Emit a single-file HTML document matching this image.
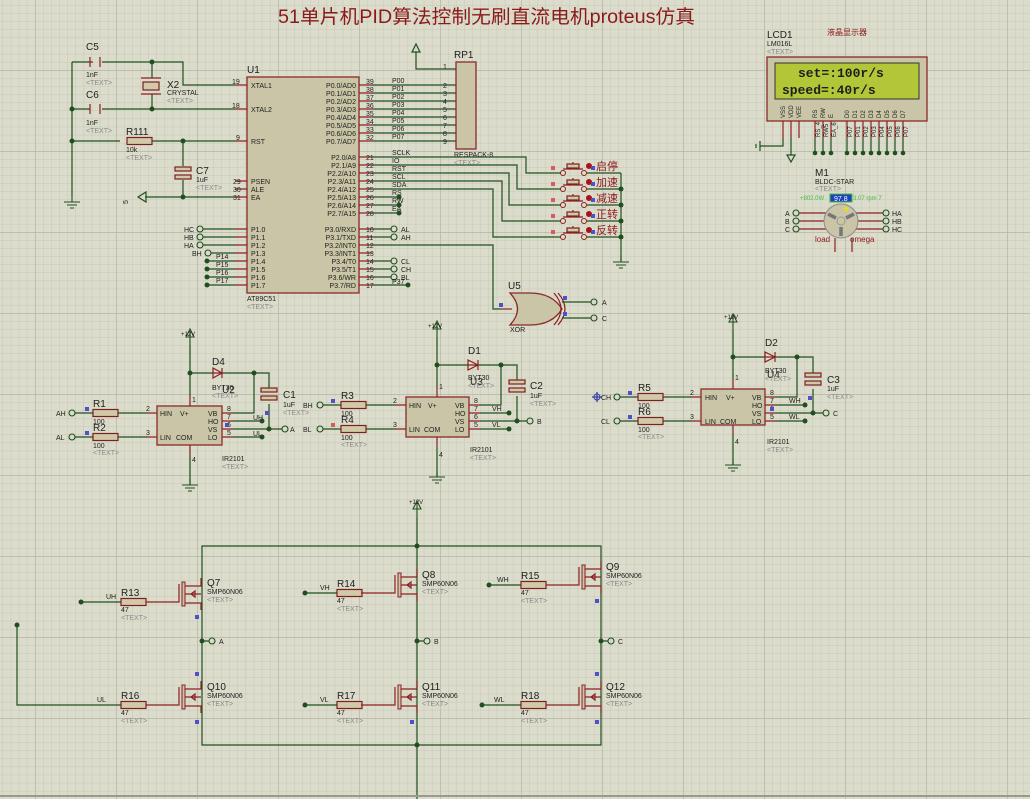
<!DOCTYPE html>
<html><head><meta charset="utf-8"><style>
html,body{margin:0;padding:0;background:#dcdccc;}
svg{display:block}
text{font-family:"Liberation Sans","Noto Sans CJK SC",sans-serif;fill:#1e1e1e}
.w{stroke:#1f4f1f;stroke-width:1.2;fill:none}
.p{stroke:#8b2020;stroke-width:1.2;fill:none}
.b{fill:#c9c5a6;stroke:#8b2a2a;stroke-width:1.3}
.r{fill:#d2c9a8;stroke:#7a2020;stroke-width:1.2}
.t{fill:none;stroke:#1f4f1f;stroke-width:1.1}
.d{fill:#1f4f1f}
.s{font-size:7px}
.g{font-size:7px;fill:#8a8a8a}
.l{font-size:10px}
.m{font-size:7px}
.bl{fill:#5050c8}.rd{fill:#d06060}
</style></head><body>
<svg width="1030" height="799" viewBox="0 0 1030 799" xmlns="http://www.w3.org/2000/svg">
<defs>
<pattern id="mi" x="2.6" y="5.2" width="8.1" height="8.1" patternUnits="userSpaceOnUse"><path d="M0 0H8.1M0 0V8.1" stroke="#c6c6b4" stroke-width="1"/></pattern>
<pattern id="ma" x="35" y="70" width="81" height="81" patternUnits="userSpaceOnUse"><path d="M0 0H81M0 0V81" stroke="#b4b4a2" stroke-width="1.4"/></pattern>
<g id="gnd"><path d="M0 0V6M-8 6H8M-5 9H5M-2 12H2" stroke="#1f4f1f" stroke-width="1.1" fill="none"/></g>
<g id="pwr"><path d="M0 0V-14M-4 -8L0 -16L4 -8Z" stroke="#1f4f1f" stroke-width="1.1" fill="none"/></g>
<g id="res"><rect x="0" y="-3.5" width="25" height="7" class="r"/></g>
<g id="mos"><path d="M-16 20H-4V2" class="p"/><rect x="-1" y="0" width="3" height="24" fill="#c9c5a6" stroke="#8b2020"/><path d="M2 4H18V-4M2 12H18M2 21H18V28M8 12l4-3v6z" class="p"/></g>
</defs>
<rect width="1030" height="799" fill="#dcdccc"/>
<rect width="1030" height="799" fill="url(#mi)"/>
<rect width="1030" height="799" fill="url(#ma)"/>

<text x="278" y="23" font-size="19" style="fill:#8b1a1a" textLength="417" lengthAdjust="spacingAndGlyphs">51单片机PID算法控制无刷直流电机proteus仿真</text>

<!-- Crystal / caps area -->
<path class="w" d="M72 62H90M102 62H183V85H235M72 109H90M102 109H235M152 62V78M152 94V109M72 62V196M72 141H120M152 141H235M183 141V166M183 180V197M145 197H235"/>
<path class="p" d="M90 57V67M90 62H93M100 57V67M100 104V114M90 104V114"/>
<rect x="143" y="82" width="16" height="8" class="r"/><path class="p" d="M141 78H161M141 94H161"/>
<circle cx="152" cy="62" r="2.5" class="d"/><circle cx="152" cy="109" r="2.5" class="d"/><circle cx="72" cy="109" r="2.5" class="d"/><circle cx="72" cy="141" r="2.5" class="d"/><circle cx="183" cy="141" r="2.5" class="d"/><circle cx="183" cy="197" r="2.5" class="d"/>
<use href="#res" x="127" y="141"/>
<rect x="175" y="167" width="16" height="4" class="r"/><rect x="175" y="175" width="16" height="4" class="r"/>
<path class="w" d="M138 197l8-5v10z"/>
<use href="#gnd" x="72" y="196"/>
<text x="86" y="50" class="l">C5</text><text x="86" y="77" class="m">1nF</text><text x="86" y="85" class="g">&lt;TEXT&gt;</text>
<text x="86" y="98" class="l">C6</text><text x="86" y="125" class="m">1nF</text><text x="86" y="133" class="g">&lt;TEXT&gt;</text>
<text x="167" y="88" class="l">X2</text><text x="167" y="95" class="m">CRYSTAL</text><text x="167" y="103" class="g">&lt;TEXT&gt;</text>
<text x="126" y="135" class="l">R111</text><text x="126" y="152" class="m">10k</text><text x="126" y="160" class="g">&lt;TEXT&gt;</text>
<text x="196" y="174" class="l">C7</text><text x="196" y="182" class="m">1uF</text><text x="196" y="190" class="g">&lt;TEXT&gt;</text>
<text x="128" y="204" class="m" transform="rotate(-90 128 204)">5</text>

<!-- U1 -->
<rect x="247" y="77" width="112" height="216" class="b"/>
<path class="p" d="M235 85H247M235 109H247M235 141H247M235 181H247M235 189H247M235 197H247M235 229H247M235 237H247M235 245H247M235 253H247M235 261H247M235 269H247M235 277H247M235 285H247"/>
<path class="p" d="M359 85H372M359 93H372M359 101H372M359 109H372M359 117H372M359 125H372M359 133H372M359 141H372M359 157H372M359 165H372M359 173H372M359 181H372M359 189H372M359 197H372M359 205H372M359 213H372M359 229H372M359 237H372M359 245H372M359 253H372M359 261H372M359 269H372M359 277H372M359 285H372"/>
<text x="247" y="73" class="l">U1</text><text x="247" y="301" class="m">AT89C51</text><text x="247" y="309" class="g">&lt;TEXT&gt;</text>
<g class="s">
<text x="251" y="88" class="s">XTAL1</text><text x="251" y="112" class="s">XTAL2</text><text x="251" y="144" class="s">RST</text>
<text x="251" y="184" class="s">PSEN</text><text x="251" y="192" class="s">ALE</text><text x="251" y="200" class="s">EA</text>
<text x="251" y="232" class="s">P1.0</text><text x="251" y="240" class="s">P1.1</text><text x="251" y="248" class="s">P1.2</text><text x="251" y="256" class="s">P1.3</text><text x="251" y="264" class="s">P1.4</text><text x="251" y="272" class="s">P1.5</text><text x="251" y="280" class="s">P1.6</text><text x="251" y="288" class="s">P1.7</text>
</g>
<g text-anchor="end">
<text x="356" y="88" class="s">P0.0/AD0</text><text x="356" y="96" class="s">P0.1/AD1</text><text x="356" y="104" class="s">P0.2/AD2</text><text x="356" y="112" class="s">P0.3/AD3</text><text x="356" y="120" class="s">P0.4/AD4</text><text x="356" y="128" class="s">P0.5/AD5</text><text x="356" y="136" class="s">P0.6/AD6</text><text x="356" y="144" class="s">P0.7/AD7</text>
<text x="356" y="160" class="s">P2.0/A8</text><text x="356" y="168" class="s">P2.1/A9</text><text x="356" y="176" class="s">P2.2/A10</text><text x="356" y="184" class="s">P2.3/A11</text><text x="356" y="192" class="s">P2.4/A12</text><text x="356" y="200" class="s">P2.5/A13</text><text x="356" y="208" class="s">P2.6/A14</text><text x="356" y="216" class="s">P2.7/A15</text>
<text x="356" y="232" class="s">P3.0/RXD</text><text x="356" y="240" class="s">P3.1/TXD</text><text x="356" y="248" class="s">P3.2/INT0</text><text x="356" y="256" class="s">P3.3/INT1</text><text x="356" y="264" class="s">P3.4/T0</text><text x="356" y="272" class="s">P3.5/T1</text><text x="356" y="280" class="s">P3.6/WR</text><text x="356" y="288" class="s">P3.7/RD</text>
</g>
<g class="s">
<text x="232" y="84" class="s">19</text><text x="232" y="108" class="s">18</text><text x="236" y="140" class="s">9</text>
<text x="233" y="184" class="s">29</text><text x="233" y="192" class="s">30</text><text x="233" y="200" class="s">31</text>
<text x="366" y="84" class="s">39</text><text x="366" y="92" class="s">38</text><text x="366" y="100" class="s">37</text><text x="366" y="108" class="s">36</text><text x="366" y="116" class="s">35</text><text x="366" y="124" class="s">34</text><text x="366" y="132" class="s">33</text><text x="366" y="140" class="s">32</text>
<text x="366" y="160" class="s">21</text><text x="366" y="168" class="s">22</text><text x="366" y="176" class="s">23</text><text x="366" y="184" class="s">24</text><text x="366" y="192" class="s">25</text><text x="366" y="200" class="s">26</text><text x="366" y="208" class="s">27</text><text x="366" y="216" class="s">28</text>
<text x="366" y="232" class="s">10</text><text x="366" y="240" class="s">11</text><text x="366" y="248" class="s">12</text><text x="366" y="256" class="s">13</text><text x="366" y="264" class="s">14</text><text x="366" y="272" class="s">15</text><text x="366" y="280" class="s">16</text><text x="366" y="288" class="s">17</text>
</g>
<!-- P0 to RP1 -->
<path class="w" d="M372 85H456M372 93H456M372 101H456M372 109H456M372 117H456M372 125H456M372 133H456M372 141H456M456 69H416V52"/>
<path class="w" d="M412 52l4-8 4 8z"/>
<rect x="456" y="62" width="20" height="87" class="b"/>
<text x="454" y="58" class="l">RP1</text><text x="454" y="157" class="m">RESPACK-8</text><text x="454" y="165" class="g">&lt;TEXT&gt;</text>
<g class="s"><text x="392" y="83">P00</text><text x="392" y="91">P01</text><text x="392" y="99">P02</text><text x="392" y="107">P03</text><text x="392" y="115">P04</text><text x="392" y="123">P05</text><text x="392" y="131">P06</text><text x="392" y="139">P07</text>
<text x="392" y="155">SCLK</text><text x="392" y="163">IO</text><text x="392" y="171">RST</text><text x="392" y="179">SCL</text><text x="392" y="187">SDA</text><text x="392" y="195">RS</text><text x="392" y="203">RW</text><text x="392" y="211">EA</text>
<text x="443" y="88">2</text><text x="443" y="96">3</text><text x="443" y="104">4</text><text x="443" y="112">5</text><text x="443" y="120">6</text><text x="443" y="128">7</text><text x="443" y="136">8</text><text x="443" y="144">9</text><text x="443" y="69">1</text></g>
<!-- P2 to buttons -->
<path class="w" d="M372 157H526V173H563M372 165H517V189H563M372 173H509V205H563M372 181H502V221H563M372 189H493V237H563M372 197H399M372 205H399M372 213H399M372 245H493V309H501"/>
<circle cx="399" cy="197" r="2.5" class="d"/><circle cx="399" cy="205" r="2.5" class="d"/><circle cx="399" cy="213" r="2.5" class="d"/>
<!-- P3 terminals -->
<path class="w" d="M372 229H391M372 237H391M372 261H391M372 269H391M372 277H391M372 285H408"/>
<circle cx="394" cy="229" r="3" class="t"/><circle cx="394" cy="237" r="3" class="t"/><circle cx="394" cy="261" r="3" class="t"/><circle cx="394" cy="269" r="3" class="t"/><circle cx="394" cy="277" r="3" class="t"/><circle cx="408" cy="285" r="2.5" class="d"/>
<g class="s"><text x="401" y="232">AL</text><text x="401" y="240">AH</text><text x="401" y="264">CL</text><text x="401" y="272">CH</text><text x="401" y="280">BL</text><text x="392" y="284">P37</text></g>
<!-- P1 left -->
<path class="w" d="M203 229H235M203 237H235M203 245H235M211 253H235M207 261H235M207 269H235M207 277H235M207 285H235"/>
<circle cx="200" cy="229" r="3" class="t"/><circle cx="200" cy="237" r="3" class="t"/><circle cx="200" cy="245" r="3" class="t"/><circle cx="208" cy="253" r="3" class="t"/>
<circle cx="207" cy="261" r="2.5" class="d"/><circle cx="207" cy="269" r="2.5" class="d"/><circle cx="207" cy="277" r="2.5" class="d"/><circle cx="207" cy="285" r="2.5" class="d"/>
<g class="s"><text x="184" y="232">HC</text><text x="184" y="240">HB</text><text x="184" y="248">HA</text><text x="192" y="256">BH</text><text x="216" y="259">P14</text><text x="216" y="267">P15</text><text x="216" y="275">P16</text><text x="216" y="283">P17</text></g>

<!-- Buttons -->
<g id="btn"><rect x="567" y="164" width="12" height="4" class="r"/><path class="p" d="M563 169H583M573 164V162"/><circle cx="563" cy="173" r="2.5" fill="#dcdccc" stroke="#8b2020"/><circle cx="584" cy="173" r="2.5" fill="#dcdccc" stroke="#8b2020"/><circle cx="589" cy="166" r="3" fill="#b01010"/><rect x="591" y="166" width="4" height="4" class="bl"/><rect x="551" y="166" width="4" height="4" class="rd"/><path class="w" d="M587 173H621"/></g>
<use href="#btn" y="16"/><use href="#btn" y="32"/><use href="#btn" y="48"/><use href="#btn" y="64"/>
<g font-size="11" style="fill:#8b1a1a"><text x="596" y="170" style="fill:#8b1a1a">启停</text><text x="596" y="186" style="fill:#8b1a1a">加速</text><text x="596" y="202" style="fill:#8b1a1a">减速</text><text x="596" y="218" style="fill:#8b1a1a">正转</text><text x="596" y="234" style="fill:#8b1a1a">反转</text></g>
<path class="w" d="M621 173V262"/><use href="#gnd" x="621" y="256"/>
<circle cx="621" cy="189" r="2.5" class="d"/><circle cx="621" cy="205" r="2.5" class="d"/><circle cx="621" cy="221" r="2.5" class="d"/><circle cx="621" cy="237" r="2.5" class="d"/>

<!-- XOR U5 -->
<path class="p" d="M501 309H512"/>
<path d="M510 293Q525 309 510 325H530Q552 325 562 309Q552 293 530 293Z" class="b"/>
<path d="M554 293Q568 309 554 325M558 293Q572 309 558 325" stroke="#8b2020" fill="none" stroke-width="1.2"/>
<path class="w" d="M562 302H591M562 318H591"/><circle cx="594" cy="302" r="3" class="t"/><circle cx="594" cy="318" r="3" class="t"/>
<rect x="499" y="303" width="4" height="4" class="bl"/><rect x="563" y="296" width="4" height="4" class="bl"/><rect x="563" y="312" width="4" height="4" class="bl"/>
<text x="508" y="289" class="l">U5</text><text x="510" y="332" class="m">XOR</text>
<g class="s"><text x="602" y="305">A</text><text x="602" y="321">C</text></g>

<!-- LCD -->
<rect x="767" y="57" width="160" height="64" fill="#c9c5a6" stroke="#8b2a2a" stroke-width="1.3"/>
<rect x="775" y="63" width="144" height="36" fill="#b2c638" stroke="#333" stroke-width="1"/>
<text x="798" y="77" font-size="13" font-family="Liberation Mono" style="font-family:'Liberation Mono',monospace;font-weight:bold">set=:100r/s</text>
<text x="782" y="94" font-size="13" style="font-family:'Liberation Mono',monospace;font-weight:bold">speed=:40r/s</text>
<text x="767" y="38" class="l">LCD1</text><text x="767" y="46" class="s">LM016L</text><text x="767" y="54" class="g">&lt;TEXT&gt;</text>
<text x="827" y="35" font-size="8" style="fill:#8b1a1a">液晶显示器</text>
<g class="s" font-size="6">
<text transform="translate(785 118) rotate(-90)" font-size="6">VSS</text><text transform="translate(793 118) rotate(-90)" font-size="6">VDD</text><text transform="translate(801 118) rotate(-90)" font-size="6">VEE</text>
<text transform="translate(817 118) rotate(-90)" font-size="6">RS</text><text transform="translate(825 118) rotate(-90)" font-size="6">RW</text><text transform="translate(833 118) rotate(-90)" font-size="6">E</text>
<text transform="translate(849 118) rotate(-90)" font-size="6">D0</text><text transform="translate(857 118) rotate(-90)" font-size="6">D1</text><text transform="translate(865 118) rotate(-90)" font-size="6">D2</text><text transform="translate(873 118) rotate(-90)" font-size="6">D3</text><text transform="translate(881 118) rotate(-90)" font-size="6">D4</text><text transform="translate(889 118) rotate(-90)" font-size="6">D5</text><text transform="translate(897 118) rotate(-90)" font-size="6">D6</text><text transform="translate(905 118) rotate(-90)" font-size="6">D7</text>
</g>
<path class="p" d="M783 121V138M791 121V138M799 121V138M815 121V138M823 121V138M831 121V138M847 121V138M855 121V138M863 121V138M871 121V138M879 121V138M887 121V138M895 121V138M903 121V138"/>
<path class="w" d="M783 138V146H760M760 141V151M756 144V148M791 138V155M815 138V153M823 138V153M831 138V153M847 138V153M855 138V153M863 138V153M871 138V153M879 138V153M887 138V153M895 138V153M903 138V153"/>
<path class="w" d="M787 155h8l-4 7z"/>
<g class="d"><circle cx="815" cy="153" r="2.3"/><circle cx="823" cy="153" r="2.3"/><circle cx="831" cy="153" r="2.3"/><circle cx="847" cy="153" r="2.3"/><circle cx="855" cy="153" r="2.3"/><circle cx="863" cy="153" r="2.3"/><circle cx="871" cy="153" r="2.3"/><circle cx="879" cy="153" r="2.3"/><circle cx="887" cy="153" r="2.3"/><circle cx="895" cy="153" r="2.3"/><circle cx="903" cy="153" r="2.3"/></g>
<g font-size="6"><text transform="translate(820 137) rotate(-90)" font-size="6">RS_4</text><text transform="translate(828 137) rotate(-90)" font-size="6">RW5</text><text transform="translate(836 137) rotate(-90)" font-size="6">EA_6</text>
<text transform="translate(852 137) rotate(-90)" font-size="6">P07</text><text transform="translate(860 137) rotate(-90)" font-size="6">P01</text><text transform="translate(868 137) rotate(-90)" font-size="6">P02</text><text transform="translate(876 137) rotate(-90)" font-size="6">P03</text><text transform="translate(884 137) rotate(-90)" font-size="6">P04</text><text transform="translate(892 137) rotate(-90)" font-size="6">P05</text><text transform="translate(900 137) rotate(-90)" font-size="6">P06</text><text transform="translate(908 137) rotate(-90)" font-size="6">P07</text></g>

<!-- Motor M1 -->
<text x="815" y="176" class="l">M1</text><text x="815" y="184" class="s">BLDC-STAR</text><text x="815" y="191" class="g">&lt;TEXT&gt;</text>
<text x="800" y="200" font-size="6" style="fill:#40c040">+802.0W</text><rect x="830" y="194" width="22" height="8" fill="#2040c0" stroke="#40c040"/><text x="834" y="201" font-size="7" style="fill:#fff">97.8</text><text x="853" y="200" font-size="6" style="fill:#40c040">3.07 rpm 7</text>
<path class="p" d="M799 213H828M799 221H824M799 229H828M854 213H883M858 221H883M854 229H883M835 238V252M852 238V252"/>
<circle cx="841" cy="221" r="17" fill="#c9c5a6" stroke="#8b8b8b"/>
<circle cx="841" cy="221" r="4" fill="none" stroke="#999"/>
<path d="M836 218L828 214M846 218L854 214M841 227V236" stroke="#777" stroke-width="3.5"/>
<circle cx="846" cy="209" r="2.2" fill="#e0e020"/>
<circle cx="796" cy="213" r="3" class="t"/><circle cx="796" cy="221" r="3" class="t"/><circle cx="796" cy="229" r="3" class="t"/>
<circle cx="886" cy="213" r="3" class="t"/><circle cx="886" cy="221" r="3" class="t"/><circle cx="886" cy="229" r="3" class="t"/>
<g class="s"><text x="785" y="216">A</text><text x="785" y="224">B</text><text x="785" y="232">C</text><text x="892" y="216">HA</text><text x="892" y="224">HB</text><text x="892" y="232">HC</text></g>
<text x="815" y="242" font-size="8" style="fill:#8b1a1a">load</text><text x="850" y="242" font-size="8" style="fill:#8b1a1a">omega</text>

<!-- Driver U2 -->
<g>
<rect x="157" y="406" width="65" height="39" class="b"/>
<path class="p" d="M147 413H157M147 437H157M222 413H233M222 421H233M222 429H233M222 437H233M190 396V406M190 445V455M213 373H222"/>
<path class="p" d="M213 368L222 373L213 378ZM222 368V378"/>
<path class="w" d="M190 396V345M190 373H213M222 373H269V388M254 373V413H233M233 421H262M233 429H282M269 404V429M233 437H262M190 455V485M75 413H93M75 437H93M118 413H147M118 437H147"/>
<use href="#pwr" x="190" y="345"/>
<rect x="261" y="388" width="16" height="4" class="r"/><rect x="261" y="396" width="16" height="4" class="r"/>
<circle cx="190" cy="373" r="2.5" class="d"/><circle cx="254" cy="373" r="2.5" class="d"/><circle cx="262" cy="421" r="2.5" class="d"/><circle cx="269" cy="429" r="2.5" class="d"/><circle cx="262" cy="437" r="2.5" class="d"/>
<circle cx="285" cy="429" r="3" class="t"/><circle cx="72" cy="413" r="3" class="t"/><circle cx="72" cy="437" r="3" class="t"/>
<use href="#gnd" x="190" y="479"/>
<use href="#res" x="93" y="413"/><use href="#res" x="93" y="437"/>
<g class="s"><text x="160" y="416">HIN</text><text x="180" y="416">V+</text><text x="208" y="416">VB</text><text x="208" y="424">HO</text><text x="208" y="432">VS</text><text x="208" y="440">LO</text><text x="160" y="440">LIN</text><text x="176" y="440">COM</text>
<text x="146" y="411">2</text><text x="146" y="435">3</text><text x="227" y="411">8</text><text x="227" y="419">7</text><text x="227" y="427">6</text><text x="227" y="435">5</text><text x="192" y="402">1</text><text x="192" y="462">4</text>
<text x="56" y="416">AH</text><text x="56" y="440">AL</text><text x="253" y="420">UH</text><text x="253" y="436">UL</text><text x="290" y="432">A</text><text x="181" y="336" font-size="6">+12V</text></g>
<text x="212" y="365" class="l">D4</text><text x="212" y="390" class="s">BYT30</text><text x="222" y="393" class="l">U2</text><text x="212" y="398" class="g">&lt;TEXT&gt;</text>
<text x="283" y="398" class="l">C1</text><text x="283" y="407" class="s">1uF</text><text x="283" y="415" class="g">&lt;TEXT&gt;</text>
<text x="93" y="407" class="l">R1</text><text x="93" y="424" class="s">100</text><text x="93" y="431" class="l">R2</text><text x="93" y="448" class="s">100</text><text x="93" y="455" class="g">&lt;TEXT&gt;</text>
<text x="222" y="461" class="s">IR2101</text><text x="222" y="469" class="g">&lt;TEXT&gt;</text>
<rect x="85" y="407" width="4" height="4" class="bl"/><rect x="85" y="431" width="4" height="4" class="bl"/><rect x="265" y="411" width="4" height="4" class="bl"/><rect x="225" y="423" width="4" height="4" class="bl"/>
</g>

<!-- Driver U3 -->
<g>
<rect x="406" y="397" width="63" height="40" class="b"/>
<path class="p" d="M396 405H406M396 429H406M469 405H480M469 413H480M469 421H480M469 429H480M437 387V397M437 437V447M468 365H478M468 360L478 365L468 370ZM478 360V370"/>
<path class="w" d="M437 387V337M437 365H468M478 365H517V380M501 365V405H480M480 413H509M480 421H527M517 396V421M480 429H509M437 447V477M323 405H341M323 429H341M366 405H396M366 429H396"/>
<use href="#pwr" x="437" y="337"/>
<rect x="509" y="380" width="16" height="4" class="r"/><rect x="509" y="388" width="16" height="4" class="r"/>
<circle cx="437" cy="365" r="2.5" class="d"/><circle cx="501" cy="365" r="2.5" class="d"/><circle cx="509" cy="413" r="2.5" class="d"/><circle cx="517" cy="421" r="2.5" class="d"/><circle cx="509" cy="429" r="2.5" class="d"/>
<circle cx="530" cy="421" r="3" class="t"/><circle cx="320" cy="405" r="3" class="t"/><circle cx="320" cy="429" r="3" class="t"/>
<use href="#gnd" x="437" y="471"/>
<use href="#res" x="341" y="405"/><use href="#res" x="341" y="429"/>
<g class="s"><text x="409" y="408">HIN</text><text x="428" y="408">V+</text><text x="455" y="408">VB</text><text x="455" y="416">HO</text><text x="455" y="424">VS</text><text x="455" y="432">LO</text><text x="409" y="432">LIN</text><text x="424" y="432">COM</text>
<text x="393" y="403">2</text><text x="393" y="427">3</text><text x="474" y="403">8</text><text x="474" y="411">7</text><text x="474" y="419">6</text><text x="474" y="427">5</text><text x="439" y="389">1</text><text x="439" y="457">4</text>
<text x="303" y="408">BH</text><text x="303" y="432">BL</text><text x="492" y="411">VH</text><text x="492" y="427">VL</text><text x="537" y="424">B</text><text x="428" y="328" font-size="6">+12V</text></g>
<text x="468" y="354" class="l">D1</text><text x="468" y="380" class="s">BYT30</text><text x="470" y="385" class="l">U3</text><text x="468" y="388" class="g">&lt;TEXT&gt;</text>
<text x="530" y="389" class="l">C2</text><text x="530" y="398" class="s">1uF</text><text x="530" y="406" class="g">&lt;TEXT&gt;</text>
<text x="341" y="399" class="l">R3</text><text x="341" y="416" class="s">100</text><text x="341" y="423" class="l">R4</text><text x="341" y="440" class="s">100</text><text x="341" y="447" class="g">&lt;TEXT&gt;</text>
<text x="470" y="452" class="s">IR2101</text><text x="470" y="460" class="g">&lt;TEXT&gt;</text>
<rect x="331" y="399" width="4" height="4" class="bl"/><rect x="331" y="423" width="4" height="4" class="rd"/>
</g>

<!-- Driver U4 -->
<g>
<rect x="701" y="389" width="64" height="36" class="b"/>
<path class="p" d="M691 397H701M691 421H701M765 397H776M765 405H776M765 413H776M765 421H776M733 379V389M733 425V435M765 357H775M765 352L775 357L765 362ZM775 352V362"/>
<path class="w" d="M733 379V330M733 357H765M775 357H813V373M797 357V397H776M776 405H805M776 413H823M813 389V413M776 421H805M733 435V465M620 397H638M620 421H638M662 397H691M662 421H691"/>
<use href="#pwr" x="733" y="330"/>
<rect x="805" y="373" width="16" height="4" class="r"/><rect x="805" y="381" width="16" height="4" class="r"/>
<circle cx="733" cy="357" r="2.5" class="d"/><circle cx="797" cy="357" r="2.5" class="d"/><circle cx="805" cy="405" r="2.5" class="d"/><circle cx="813" cy="413" r="2.5" class="d"/><circle cx="805" cy="421" r="2.5" class="d"/>
<circle cx="826" cy="413" r="3" class="t"/><circle cx="617" cy="397" r="3" class="t"/><circle cx="617" cy="421" r="3" class="t"/>
<path d="M592 397H602M597 392V402" stroke="#3040a0" stroke-width="1.3"/><circle cx="597" cy="397" r="3" fill="none" stroke="#3040a0"/>
<use href="#gnd" x="733" y="459"/>
<use href="#res" x="638" y="397"/><use href="#res" x="638" y="421"/>
<g class="s"><text x="705" y="400">HIN</text><text x="726" y="400">V+</text><text x="752" y="400">VB</text><text x="752" y="408">HO</text><text x="752" y="416">VS</text><text x="752" y="424">LO</text><text x="705" y="424">LIN</text><text x="720" y="424">COM</text>
<text x="690" y="395">2</text><text x="690" y="419">3</text><text x="770" y="395">8</text><text x="770" y="403">7</text><text x="770" y="411">6</text><text x="770" y="419">5</text><text x="735" y="380">1</text><text x="735" y="444">4</text>
<text x="601" y="400">CH</text><text x="601" y="424">CL</text><text x="789" y="403">WH</text><text x="789" y="419">WL</text><text x="833" y="416">C</text><text x="724" y="319" font-size="6">+12V</text></g>
<text x="765" y="346" class="l">D2</text><text x="765" y="373" class="s">BYT30</text><text x="767" y="378" class="l">U4</text><text x="765" y="381" class="g">&lt;TEXT&gt;</text>
<text x="827" y="383" class="l">C3</text><text x="827" y="391" class="s">1uF</text><text x="827" y="399" class="g">&lt;TEXT&gt;</text>
<text x="638" y="391" class="l">R5</text><text x="638" y="408" class="s">100</text><text x="638" y="415" class="l">R6</text><text x="638" y="432" class="s">100</text><text x="638" y="439" class="g">&lt;TEXT&gt;</text>
<text x="767" y="444" class="s">IR2101</text><text x="767" y="452" class="g">&lt;TEXT&gt;</text>
<rect x="628" y="391" width="4" height="4" class="bl"/><rect x="628" y="415" width="4" height="4" class="bl"/><rect x="808" y="396" width="4" height="4" class="bl"/><rect x="770" y="407" width="4" height="4" class="bl"/>
</g>

<!-- Bridge -->
<use href="#pwr" x="417" y="517"/>
<text x="409" y="504" font-size="6">+12V</text>
<path class="w" d="M417 517V546M202 546H601V745H202ZM417 546V745M417 745V799M202 641H209M417 641H424M601 641H608M17 625V705H121M81 602H121M305 593H337M489 585H521M305 705H337M482 705H521"/>
<circle cx="212" cy="641" r="3" class="t"/><circle cx="427" cy="641" r="3" class="t"/><circle cx="611" cy="641" r="3" class="t"/>
<g class="d"><circle cx="417" cy="546" r="2.5"/><circle cx="417" cy="745" r="2.5"/><circle cx="202" cy="641" r="2.5"/><circle cx="417" cy="641" r="2.5"/><circle cx="601" cy="641" r="2.5"/><circle cx="17" cy="625" r="2.5"/><circle cx="81" cy="602" r="2.5"/><circle cx="305" cy="593" r="2.5"/><circle cx="489" cy="585" r="2.5"/><circle cx="305" cy="705" r="2.5"/><circle cx="482" cy="705" r="2.5"/></g>
<g class="s"><text x="219" y="644">A</text><text x="434" y="644">B</text><text x="618" y="644">C</text><text x="106" y="599">UH</text><text x="320" y="590">VH</text><text x="497" y="582">WH</text><text x="97" y="702">UL</text><text x="320" y="702">VL</text><text x="494" y="702">WL</text></g>
<!-- resistors & mosfets -->
<use href="#res" x="121" y="602"/><path class="p" d="M146 602H167"/><use href="#mos" x="183" y="582"/>
<use href="#res" x="337" y="593"/><path class="p" d="M361 593H383"/><use href="#mos" x="399" y="573"/>
<use href="#res" x="521" y="585"/><path class="p" d="M546 585H567"/><use href="#mos" x="583" y="565"/>
<use href="#res" x="121" y="705"/><path class="p" d="M146 705H167"/><use href="#mos" x="183" y="685"/>
<use href="#res" x="337" y="705"/><path class="p" d="M361 705H383"/><use href="#mos" x="399" y="685"/>
<use href="#res" x="521" y="705"/><path class="p" d="M546 705H567"/><use href="#mos" x="583" y="685"/>
<g>
<text x="121" y="596" class="l">R13</text><text x="121" y="612" class="s">47</text><text x="121" y="620" class="g">&lt;TEXT&gt;</text>
<text x="337" y="587" class="l">R14</text><text x="337" y="603" class="s">47</text><text x="337" y="611" class="g">&lt;TEXT&gt;</text>
<text x="521" y="579" class="l">R15</text><text x="521" y="595" class="s">47</text><text x="521" y="603" class="g">&lt;TEXT&gt;</text>
<text x="121" y="699" class="l">R16</text><text x="121" y="715" class="s">47</text><text x="121" y="723" class="g">&lt;TEXT&gt;</text>
<text x="337" y="699" class="l">R17</text><text x="337" y="715" class="s">47</text><text x="337" y="723" class="g">&lt;TEXT&gt;</text>
<text x="521" y="699" class="l">R18</text><text x="521" y="715" class="s">47</text><text x="521" y="723" class="g">&lt;TEXT&gt;</text>
<text x="207" y="586" class="l">Q7</text><text x="207" y="594" class="s">SMP60N06</text><text x="207" y="602" class="g">&lt;TEXT&gt;</text>
<text x="422" y="578" class="l">Q8</text><text x="422" y="586" class="s">SMP60N06</text><text x="422" y="594" class="g">&lt;TEXT&gt;</text>
<text x="606" y="570" class="l">Q9</text><text x="606" y="578" class="s">SMP60N06</text><text x="606" y="586" class="g">&lt;TEXT&gt;</text>
<text x="207" y="690" class="l">Q10</text><text x="207" y="698" class="s">SMP60N06</text><text x="207" y="706" class="g">&lt;TEXT&gt;</text>
<text x="422" y="690" class="l">Q11</text><text x="422" y="698" class="s">SMP60N06</text><text x="422" y="706" class="g">&lt;TEXT&gt;</text>
<text x="606" y="690" class="l">Q12</text><text x="606" y="698" class="s">SMP60N06</text><text x="606" y="706" class="g">&lt;TEXT&gt;</text>
</g>
<g class="bl"><rect x="195" y="615" width="4" height="4"/><rect x="195" y="672" width="4" height="4"/><rect x="195" y="720" width="4" height="4"/><rect x="410" y="720" width="4" height="4"/><rect x="595" y="599" width="4" height="4"/><rect x="595" y="672" width="4" height="4"/><rect x="595" y="720" width="4" height="4"/></g>
<path d="M0 796H1030" stroke="#9a9a8a" stroke-width="2"/>
</svg>
</body></html>
